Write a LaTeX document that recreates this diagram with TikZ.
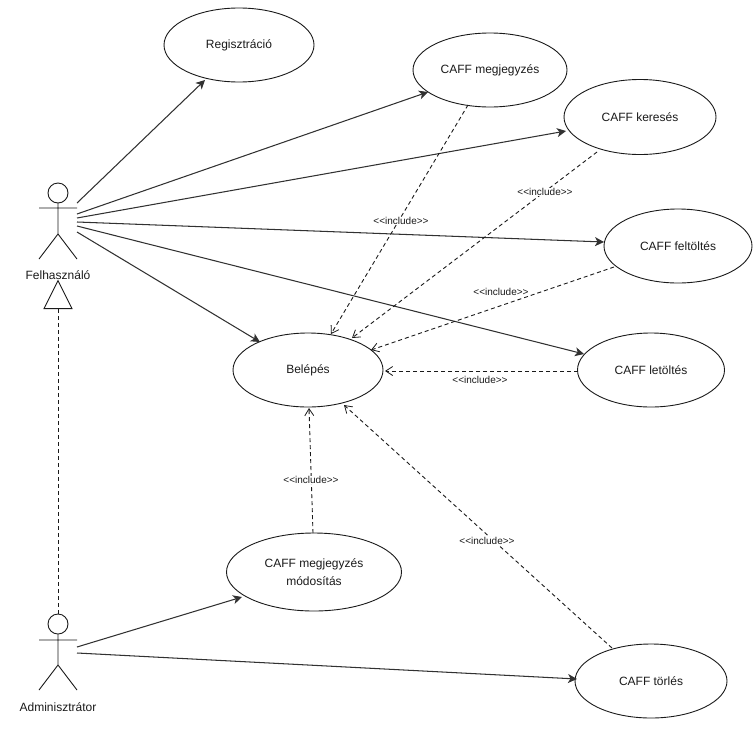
\documentclass[tikz,border=0pt]{standalone}
\usepackage{fontspec}
\setmainfont{Liberation Sans}
\usetikzlibrary{arrows.meta,shapes.geometric}
\definecolor{ink}{HTML}{1A1A1A}
\tikzset{
  x=1pt,y=-1pt,
  usecase/.style={draw=ink,line width=0.9pt,ellipse,minimum width=#1,inner sep=0pt,align=center,font=\fontsize{12}{16}\selectfont,text=ink},
  usecase/.default=150pt,
  actorbox/.style={rectangle,minimum width=38pt,minimum height=75pt,inner sep=0pt},
  limb/.style={draw=ink,line width=0.9pt},
  actorlabel/.style={font=\fontsize{12}{14}\selectfont,text=ink},
  assoc/.style={draw=ink!90!white,line width=1.05pt,-{Stealth[length=9pt,width=9pt,inset=2.5pt]}},
  inc/.style={draw=ink,line width=0.9pt,dashed,dash pattern=on 4pt off 3pt,-{Straight Barb[length=7pt,width=9pt,line width=0.8pt]}},
  inclabel/.style={font=\fontsize{10}{12}\selectfont,text=ink,fill=white,inner xsep=0pt,inner ysep=0.5pt},
  gen/.style={draw=ink,line width=0.9pt,dashed,dash pattern=on 4pt off 3pt},
}
\begin{document}
\begin{tikzpicture}
\useasboundingbox (0,0) rectangle (754,734);
% use cases
\node[usecase,minimum height=74pt,minimum width=150pt] (reg) at (239,45) {Regisztráció};
\node[usecase,minimum height=74pt,minimum width=154pt] (megj) at (490,70) {CAFF megjegyzés};
\node[usecase,minimum height=75pt,minimum width=152pt] (ker) at (640,117) {CAFF keresés};
\node[usecase,minimum height=74pt,minimum width=148pt] (felt) at (678,246) {CAFF feltöltés};
\node[usecase,minimum height=74pt,minimum width=147pt] (let) at (651,370) {CAFF letöltés};
\node[usecase,minimum height=74pt,minimum width=150pt] (bel) at (308,370) {Belépés};
\node[usecase,minimum height=78pt,minimum width=175pt] (mod) at (314,572) {CAFF megjegyzés\\[2pt]módosítás};
\node[usecase,minimum height=74pt,minimum width=152pt] (tor) at (651,681) {CAFF törlés};
% actors
\node[actorbox] (felh) at (58,221.5) {};
\node[actorbox] (adm) at (58,652.5) {};
\draw[limb] (58,193) circle (10);
\draw[limb] (58,203) -- (58,234) (39,208) -- (77,208) (39,259) -- (58,234) -- (77,259);
\draw[limb] (58,624) circle (10);
\draw[limb] (58,634) -- (58,665) (39,640) -- (77,640) (39,690) -- (58,665) -- (77,690);
\node[actorlabel] (felhl) at (58,275) {Felhasználó};
\node[actorlabel] (adml) at (58,707) {Adminisztrátor};
% attachment points
\coordinate (f1) at (77,203);
\coordinate (f2) at (77,214);
\coordinate (f3) at (77,218);
\coordinate (f4) at (77,222);
\coordinate (f5) at (77,226);
\coordinate (f6) at (77,232);
\coordinate (a1) at (77,647);
\coordinate (a2) at (77,653);
\coordinate (t1) at (205,80);
\coordinate (t2) at (428,92);
\coordinate (t3) at (566,131);
\coordinate (t4) at (604,242);
\coordinate (t5) at (584,354);
\coordinate (t6) at (260,342);
\coordinate (t7) at (242,597);
\coordinate (t8) at (577,679);
\draw[assoc] (f1) -- (t1);
\draw[assoc] (f2) -- (t2);
\draw[assoc] (f3) -- (t3);
\draw[assoc] (f4) -- (t4);
\draw[assoc] (f5) -- (t5);
\draw[assoc] (f6) -- (t6);
\draw[assoc] (a1) -- (t7);
\draw[assoc] (a2) -- (t8);
% includes
\coordinate (s1) at (468,105);
\coordinate (e1) at (331,334);
\coordinate (s2) at (597,152);
\coordinate (e2) at (352,338);
\coordinate (s3) at (614,267);
\coordinate (e3) at (371,350);
\coordinate (s4) at (578,371);
\coordinate (e4) at (385,371);
\coordinate (s5) at (313,533);
\coordinate (e5) at (309,408);
\coordinate (s6) at (612,648);
\coordinate (e6) at (344,405);
\draw[inc] (s1) -- (e1);
\draw[inc] (s2) -- (e2);
\draw[inc] (s3) -- (e3);
\draw[inc] (s4) -- (e4);
\draw[inc] (s5) -- (e5);
\draw[inc] (s6) -- (e6);
\node[inclabel] (l1) at (401,221) {<{}<include>{}>};
\node[inclabel] (l2) at (545,192) {<{}<include>{}>};
\node[inclabel] (l3) at (501,292) {<{}<include>{}>};
\node[inclabel] (l4) at (480,380) {<{}<include>{}>};
\node[inclabel] (l5) at (311,480) {<{}<include>{}>};
\node[inclabel] (l6) at (487,541) {<{}<include>{}>};
% generalisation
\node[isosceles triangle,isosceles triangle apex angle=53,shape border rotate=90,draw=ink,line width=0.9pt,minimum height=28pt,inner sep=0pt] (tri) at (58,300) {};
\draw[gen] (tri.south) -- (adm.north);
\end{tikzpicture}
\end{document}
